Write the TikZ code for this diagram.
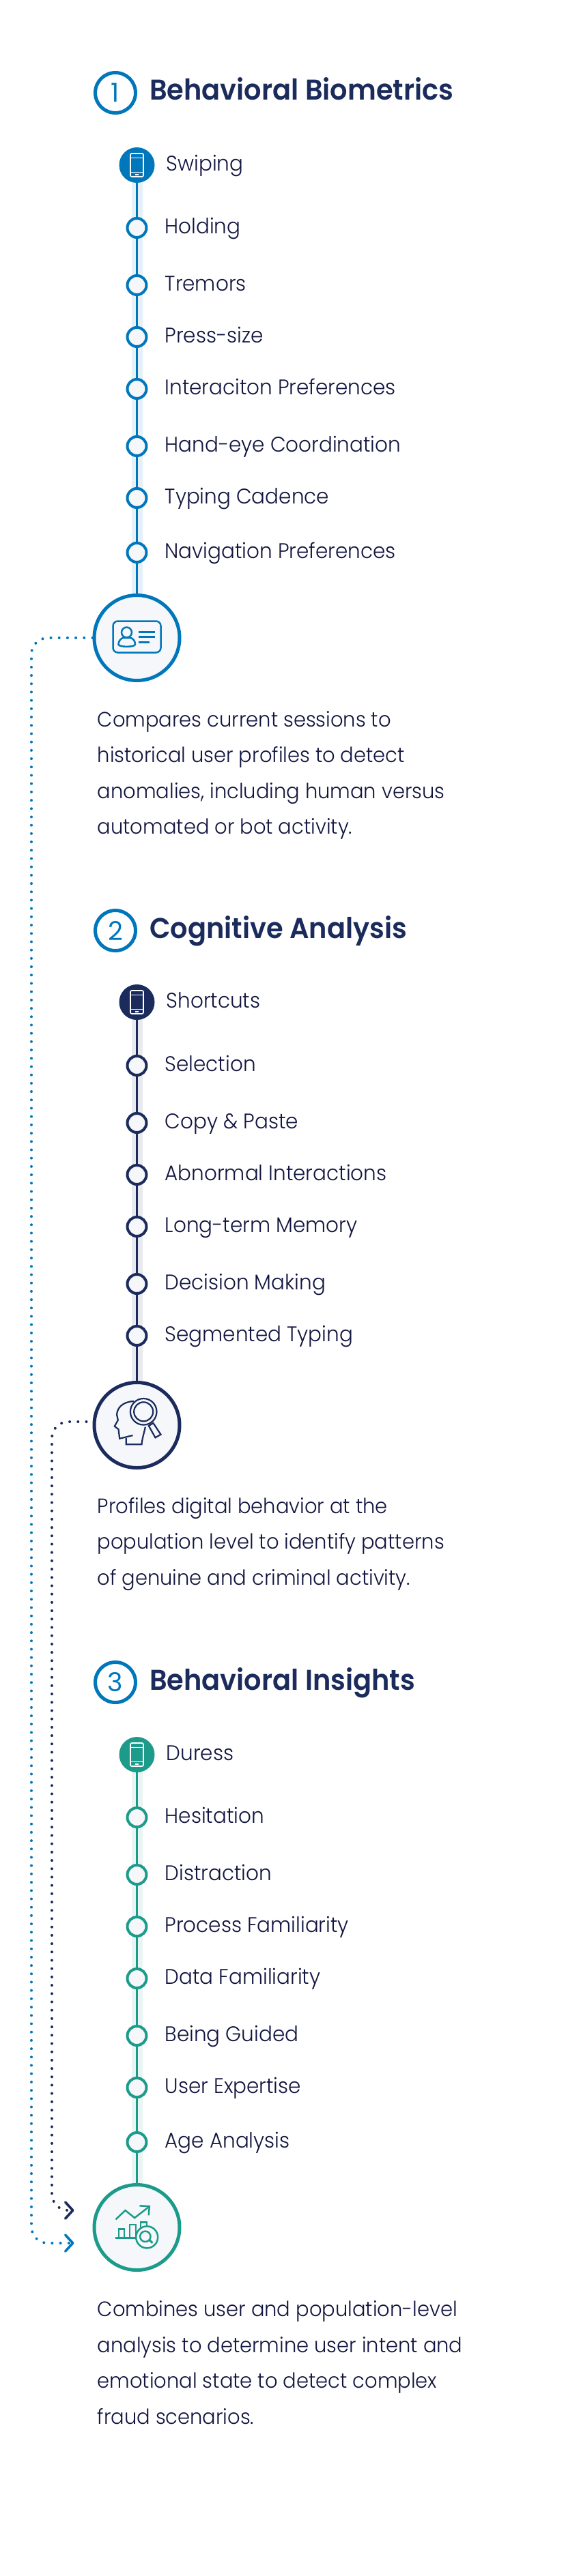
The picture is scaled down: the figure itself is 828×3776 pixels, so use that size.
\documentclass[tikz,border=0pt]{standalone}
\usepackage{fontspec}
\usetikzlibrary{positioning,backgrounds,arrows.meta}
\setmainfont{Poppins}[UprightFont={* Light},BoldFont={* SemiBold},FakeStretch=0.95]
\newfontfamily\numfont{Poppins}
\definecolor{bluemain}{HTML}{0077BB}
\definecolor{navymain}{HTML}{1A2B5C}
\definecolor{tealmain}{HTML}{1D9B8A}
\definecolor{blueband}{HTML}{E5F1F9}
\definecolor{navyband}{HTML}{E8EAEF}
\definecolor{tealband}{HTML}{E8F5F3}
\definecolor{softfill}{HTML}{F5F7FA}
\definecolor{inktext}{HTML}{12153F}
\tikzset{
    phone/.pic={
        \draw[white,line width=1.6pt,rounded corners=2pt] (-9.5,-17) rectangle (9.5,17);
        \draw[white,line width=1.6pt] (-9.5,-10.5) -- (9.5,-10.5) (-9.5,10.5) -- (9.5,10.5);
        \fill[white] (-2.5,13) rectangle (2.5,15);
    }
}
\begin{document}
\begin{tikzpicture}[x=1pt,y=-1pt]
        \tikzstyle{numcircle}=[draw=bluemain,circle,line width=5pt,fill=white,minimum size=59pt,inner sep=0pt,text=bluemain,font=\numfont\fontsize{38}{38}\selectfont]
        \tikzstyle{headtext}=[text=navymain,inner sep=0pt,font=\fontsize{42}{50}\selectfont\bfseries]
        \tikzstyle{itemtext}=[text=inktext,inner sep=0pt,font=\fontsize{31}{37}\selectfont]
        \tikzstyle{paratext}=[text=inktext,inner sep=0pt,align=left,font=\fontsize{30.5}{52.5}\selectfont]
        \tikzstyle{bubble}=[circle,minimum size=52pt,inner sep=0pt]
        \tikzstyle{dot}=[circle,fill=softfill,line width=4pt,minimum size=28pt,inner sep=0pt]
        \tikzstyle{bigcircle}=[circle,fill=softfill,line width=5pt,minimum size=125pt,inner sep=0pt]
        \tikzstyle{stemA}=[draw=bluemain,line width=3pt]
        \tikzstyle{stemB}=[draw=navymain,line width=3pt]
        \tikzstyle{stemC}=[draw=tealmain,line width=3pt]
        \tikzstyle{dots}=[line width=4pt,line cap=round,dash pattern=on 0pt off 12.2pt,rounded corners=24pt]
        \tikzstyle{chevron}=[-{Straight Barb[length=11pt,width=24pt,line width=3.6pt,round]}]

        \useasboundingbox (0,0) rectangle (828,3776);

        % first block
        \node[numcircle] (numA) at (169,136) {1};
        \node[headtext] (headA) [right=50pt of numA.center,anchor=base west,yshift=-11pt] {Behavioral Biometrics};

        \node[bubble,fill=bluemain] (a1) at (200.5,242) {};
        \pic at (a1.center) {phone};
        \node[itemtext] (ta1) [right=43pt of a1.center,anchor=base west,yshift=-8pt] {Swiping};
        \node[dot,draw=bluemain] (a2) [below=92pt of a1.center,anchor=center] {} edge[stemA] (a1);
        \node[itemtext] (ta2) [right=41pt of a2.center,anchor=base west,yshift=-8pt] {Holding};
        \node[dot,draw=bluemain] (a3) [below=84pt of a2.center,anchor=center] {} edge[stemA] (a2);
        \node[itemtext] (ta3) [right=41pt of a3.center,anchor=base west,yshift=-8pt] {Tremors};
        \node[dot,draw=bluemain] (a4) [below=76pt of a3.center,anchor=center] {} edge[stemA] (a3);
        \node[itemtext] (ta4) [right=41pt of a4.center,anchor=base west,yshift=-8pt] {Press-size};
        \node[dot,draw=bluemain] (a5) [below=76pt of a4.center,anchor=center] {} edge[stemA] (a4);
        \node[itemtext] (ta5) [right=41pt of a5.center,anchor=base west,yshift=-8pt] {Interaciton Preferences};
        \node[dot,draw=bluemain] (a6) [below=84pt of a5.center,anchor=center] {} edge[stemA] (a5);
        \node[itemtext] (ta6) [right=41pt of a6.center,anchor=base west,yshift=-8pt] {Hand-eye Coordination};
        \node[dot,draw=bluemain] (a7) [below=76pt of a6.center,anchor=center] {} edge[stemA] (a6);
        \node[itemtext] (ta7) [right=41pt of a7.center,anchor=base west,yshift=-8pt] {Typing Cadence};
        \node[dot,draw=bluemain] (a8) [below=80pt of a7.center,anchor=center] {} edge[stemA] (a7);
        \node[itemtext] (ta8) [right=41pt of a8.center,anchor=base west,yshift=-8pt] {Navigation Preferences};
        \node[bigcircle,draw=bluemain] (mainA) [below=125pt of a8.center,anchor=center] {} edge[stemA] (a8);
        \node[paratext] (paraA) [below=287.5pt of mainA.center,xshift=-58pt,anchor=base west] {Compares current sessions to\\historical user profiles to detect\\anomalies, including human versus\\automated or bot activity.};

        % id card
        \begin{scope}[shift={(mainA.center)},draw=bluemain,line width=2.5pt]
            \draw[rounded corners=7pt] (-35,-24.5) rectangle (35,21.5);
            \draw (-15,-8) circle (7.5);
            \draw (-27,9.5) .. controls (-27,4) and (-23,1) .. (-20.5,0) -- (-9,0) .. controls (-6,1) and (-2.5,4) .. (-2.5,9.5) .. controls (-2.5,14) and (-27,14) .. (-27,9.5) -- cycle;
            \draw[line width=3pt] (2.5,-9) -- (26,-9) (2.5,-1.5) -- (26,-1.5) (2.5,6) -- (18,6);
        \end{scope}

        % second block
        \node[numcircle] (numB) at (169,1364) {2};
        \node[headtext] (headB) [right=50pt of numB.center,anchor=base west,yshift=-11pt] {Cognitive Analysis};

        \node[bubble,fill=navymain] (b1) at (200.5,1469) {};
        \pic at (b1.center) {phone};
        \node[itemtext] (tb1) [right=43pt of b1.center,anchor=base west,yshift=-8pt] {Shortcuts};
        \node[dot,draw=navymain] (b2) [below=93pt of b1.center,anchor=center] {} edge[stemB] (b1);
        \node[itemtext] (tb2) [right=41pt of b2.center,anchor=base west,yshift=-8pt] {Selection};
        \node[dot,draw=navymain] (b3) [below=84pt of b2.center,anchor=center] {} edge[stemB] (b2);
        \node[itemtext] (tb3) [right=41pt of b3.center,anchor=base west,yshift=-8pt] {Copy \& Paste};
        \node[dot,draw=navymain] (b4) [below=76pt of b3.center,anchor=center] {} edge[stemB] (b3);
        \node[itemtext] (tb4) [right=41pt of b4.center,anchor=base west,yshift=-8pt] {Abnormal Interactions};
        \node[dot,draw=navymain] (b5) [below=76pt of b4.center,anchor=center] {} edge[stemB] (b4);
        \node[itemtext] (tb5) [right=41pt of b5.center,anchor=base west,yshift=-8pt] {Long-term Memory};
        \node[dot,draw=navymain] (b6) [below=84pt of b5.center,anchor=center] {} edge[stemB] (b5);
        \node[itemtext] (tb6) [right=41pt of b6.center,anchor=base west,yshift=-8pt] {Decision Making};
        \node[dot,draw=navymain] (b7) [below=76pt of b6.center,anchor=center] {} edge[stemB] (b6);
        \node[itemtext] (tb7) [right=41pt of b7.center,anchor=base west,yshift=-8pt] {Segmented Typing};
        \node[bigcircle,draw=navymain] (mainB) [below=131pt of b7.center,anchor=center] {} edge[stemB] (b7);
        \node[paratext] (paraB) [below=234pt of mainB.center,xshift=-58pt,anchor=base west] {Profiles digital behavior at the\\population level to identify patterns\\of genuine and criminal activity.};

        % head with lens
        \begin{scope}[shift={(mainB.center)},draw=navymain,line width=2.2pt]
            \draw (-4.3,-35) .. controls (-14,-35) and (-29,-30) .. (-29.3,-15) -- (-27.7,-7.3) -- (-32.7,1.7) -- (-27,6) -- (-25.3,19.7) -- (-6,15);
            \draw (-15.7,19) -- (-15.7,28.3) -- (7,28.3) .. controls (8,18) and (11,10) .. (12.3,2.7);
            \draw (9.7,-19.7) circle (19.3) (9.7,-19.7) circle (14);
            \draw (17.3,1) -- (24,-3) -- (35,13.7) -- (27,18.3) -- cycle;
        \end{scope}

        % third block
        \node[numcircle] (numC) at (169,2466) {3};
        \node[headtext] (headC) [right=50pt of numC.center,anchor=base west,yshift=-11pt] {Behavioral Insights};

        \node[bubble,fill=tealmain] (c1) at (200.5,2572) {};
        \pic at (c1.center) {phone};
        \node[itemtext] (tc1) [right=43pt of c1.center,anchor=base west,yshift=-8pt] {Duress};
        \node[dot,draw=tealmain] (c2) [below=92pt of c1.center,anchor=center] {} edge[stemC] (c1);
        \node[itemtext] (tc2) [right=41pt of c2.center,anchor=base west,yshift=-8pt] {Hesitation};
        \node[dot,draw=tealmain] (c3) [below=84pt of c2.center,anchor=center] {} edge[stemC] (c2);
        \node[itemtext] (tc3) [right=41pt of c3.center,anchor=base west,yshift=-8pt] {Distraction};
        \node[dot,draw=tealmain] (c4) [below=76pt of c3.center,anchor=center] {} edge[stemC] (c3);
        \node[itemtext] (tc4) [right=41pt of c4.center,anchor=base west,yshift=-8pt] {Process Familiarity};
        \node[dot,draw=tealmain] (c5) [below=76pt of c4.center,anchor=center] {} edge[stemC] (c4);
        \node[itemtext] (tc5) [right=41pt of c5.center,anchor=base west,yshift=-8pt] {Data Familiarity};
        \node[dot,draw=tealmain] (c6) [below=84pt of c5.center,anchor=center] {} edge[stemC] (c5);
        \node[itemtext] (tc6) [right=41pt of c6.center,anchor=base west,yshift=-8pt] {Being Guided};
        \node[dot,draw=tealmain] (c7) [below=76pt of c6.center,anchor=center] {} edge[stemC] (c6);
        \node[itemtext] (tc7) [right=41pt of c7.center,anchor=base west,yshift=-8pt] {User Expertise};
        \node[dot,draw=tealmain] (c8) [below=80pt of c7.center,anchor=center] {} edge[stemC] (c7);
        \node[itemtext] (tc8) [right=41pt of c8.center,anchor=base west,yshift=-8pt] {Age Analysis};
        \node[bigcircle,draw=tealmain] (mainC) [below=125pt of c8.center,anchor=center] {} edge[stemC] (c8);
        \node[paratext] (paraC) [below=288pt of mainC.center,xshift=-58pt,anchor=base west] {Combines user and population-level\\analysis to determine user intent and\\emotional state to detect complex\\fraud scenarios.};

        % chart with lens
        \begin{scope}[shift={(mainC.center)},draw=tealmain,line width=2.5pt]
            \draw (-31,-11.7) -- (-17,-25) -- (-3.3,-14) -- (17.3,-30);
            \draw (4,-31.7) -- (18.3,-31) -- (17.3,-17.7);
            \draw[line width=3pt] (-32,15.7) -- (-1,15.7);
            \draw (-26.3,15.7) rectangle (-18.7,2.3);
            \draw (-10.3,15.7) -- (-10.3,-4) -- (-1.7,-4) -- (-1.7,15.7);
            \draw (5.7,0) -- (5.7,-7.7) -- (14.3,-7.7) -- (14.3,0);
            \draw[fill=softfill] (14.7,14.3) circle (16);
            \draw (12.3,13.3) circle (7.7);
            \draw[line width=3pt] (17.3,17.7) -- (23,22.7);
        \end{scope}

        % bands behind the stems
        \begin{scope}[on background layer]
            \fill[white] (0,0) rectangle (828,3776);
            \draw[blueband,line width=16pt] (a1.center) -- (mainA.center);
            \draw[navyband,line width=16pt] (b1.center) -- (mainB.center);
            \draw[tealband,line width=16pt] (c1.center) -- (mainC.center);
        \end{scope}

        % dotted links
        \coordinate (railA) at (46,3288);
        \coordinate (endA) at (108.5,3288);
        \coordinate (railB) at (76,3240);
        \coordinate (endB) at (108.5,3240);
        \draw[dots,chevron,bluemain] (mainA.west) -| (railA) -- (endA);
        \draw[dots,chevron,navymain] ([shift={(-9,-5)}]mainB.west) -| (railB) -- (endB);
    \end{tikzpicture}
\end{document}
